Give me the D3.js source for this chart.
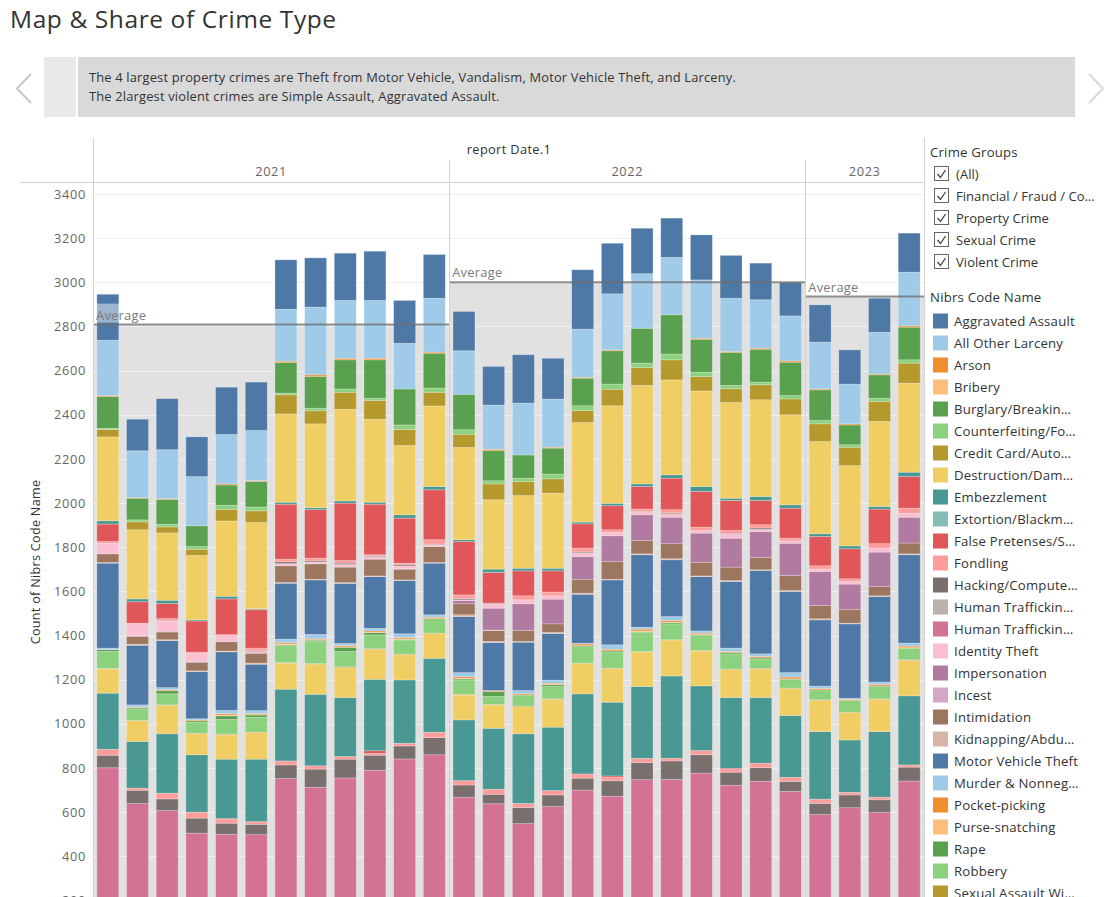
<!DOCTYPE html>
<html><head><meta charset="utf-8">
<script src="https://cdn.jsdelivr.net/npm/d3@7/dist/d3.min.js"></script>
<style>
html,body{margin:0;padding:0;overflow:hidden;background:#fff;width:1110px;height:897px}
svg{display:block;font-family:"Open Sans","Noto Sans",sans-serif}
</style></head><body>
<svg id="c" width="1110" height="960"></svg>
<script>
// ---------- DATA ----------
const years = ["2021","2022","2023"];
const months = ["2021-01","2021-02","2021-03","2021-04","2021-05","2021-06","2021-07","2021-08","2021-09","2021-10","2021-11","2021-12",
  "2022-01","2022-02","2022-03","2022-04","2022-05","2022-06","2022-07","2022-08","2022-09","2022-10","2022-11","2022-12",
  "2023-01","2023-02","2023-03","2023-04"];
const yTicks = [200,400,600,800,1000,1200,1400,1600,1800,2000,2200,2400,2600,2800,3000,3200,3400];
const crimeGroups = ["(All)","Financial / Fraud / Co…","Property Crime","Sexual Crime","Violent Crime"];

const aggravatedAssault = [208,143,231,180,214,219,224,223,214,223,194,198, 178,175,219,185,269,229,206,178,204,194,166,151, 169,155,154,177];
const allOtherLarceny   = [251,212,222,223,224,227,235,307,262,262,207,244, 197,200,235,218,218,254,247,260,264,241,219,204, 212,180,189,243];
const arson             = [5,3,3,0,5,4,6,8,7,7,0,5, 0,6,0,4,4,4,0,0,5,4,5,6, 4,5,4,6];
const bribery           = [0,0,0,0,0,0,0,0,0,0,0,0, 0,0,0,0,0,0,0,0,0,0,0,0, 0,0,0,0];
const burglary          = [143,98,113,94,92,116,139,143,132,174,163,158, 161,137,105,118,125,151,158,178,149,150,149,151, 139,90,106,148];
const counterfeiting    = [5,9,12,12,18,17,8,12,15,10,21,19, 20,14,15,21,22,23,20,26,20,15,12,15, 15,11,15,15];
const creditCard        = [34,36,27,28,53,53,86,59,77,85,72,62, 60,72,64,65,54,75,81,91,65,62,68,72, 80,83,90,91];
const destruction       = [380,313,305,292,341,391,400,380,415,376,314,365, 418,314,329,340,451,442,446,430,433,434,438,408, 418,364,385,403];
const embezzlement      = [15,13,15,5,12,4,9,9,10,9,15,15, 8,15,12,12,8,11,12,15,22,10,18,15, 12,13,12,20];
const extortion         = [0,0,0,0,0,0,0,0,0,0,0,0, 0,0,0,0,0,0,0,0,0,0,0,0, 0,0,0,0];
const falsePretenses    = [79,97,68,141,162,174,249,219,260,229,204,226, 242,139,113,96,110,109,102,143,162,136,110,136, 133,136,157,143];
const fondling          = [8,3,8,6,4,12,12,13,12,5,8,20, 17,0,18,17,17,12,11,14,15,13,15,12, 15,12,20,23];
const hacking           = [0,0,3,0,0,3,8,5,6,3,5,3, 5,3,0,0,4,0,3,4,0,4,6,0, 0,0,0,0];
const humanTraffCSA     = [0,0,0,0,0,0,0,0,0,0,0,0, 0,0,0,0,0,0,0,0,0,0,0,0, 0,0,0,0];
const humanTraffIS      = [0,0,0,0,0,0,0,0,0,0,0,0, 0,0,0,0,0,0,0,0,0,0,0,0, 0,0,0,0];
const identityTheft     = [48,54,47,38,26,8,10,8,12,12,12,8, 3,20,18,15,17,15,12,16,12,18,10,11, 11,12,18,18];
const impersonation     = [0,3,3,2,2,0,0,0,0,0,3,0, 15,99,121,112,103,117,116,120,132,131,117,146, 154,114,156,117];
const incest            = [0,0,0,0,0,0,0,0,0,0,0,0, 0,2,0,0,0,0,0,0,0,0,0,0, 0,0,0,0];
const intimidation      = [39,35,35,39,42,45,76,70,70,76,48,72, 50,50,50,39,63,80,61,68,62,61,56,68, 60,63,42,49];
const kidnapping        = [3,5,4,3,4,5,3,3,4,3,3,3, 8,5,3,5,5,3,4,5,3,4,3,4, 5,3,3,4];
const motorVehicleTheft = [385,270,213,214,265,210,253,247,272,234,241,234, 254,217,219,211,222,294,328,257,246,302,378,368, 300,337,388,400];
const murder            = [7,10,10,5,15,13,16,20,9,12,17,11, 19,2,15,14,3,20,9,18,10,15,12,20, 11,5,10,14];
const pocketPicking     = [0,3,4,4,6,5,6,4,6,6,6,6, 7,3,5,5,7,7,8,7,6,5,6,8, 6,5,7,7];
const purseSnatching    = [0,0,0,0,4,2,3,2,2,2,2,0, 2,0,0,2,0,0,3,2,2,0,0,0, 0,0,0,2];
const rape              = [8,5,14,6,16,10,4,6,19,10,3,0, 5,22,3,8,5,5,3,6,3,6,5,2, 0,0,3,0];
const robbery           = [77,53,50,50,67,67,77,100,70,63,64,66, 65,36,47,56,75,74,87,72,68,69,42,40, 45,53,56,53];
const sexualAssaultObj  = [2,0,2,3,3,3,3,3,3,2,3,2, 3,2,3,2,2,2,2,2,2,2,4,2, 2,2,2,2];
const shoplifting       = [110,95,129,95,110,120,118,136,136,136,114,112, 113,106,123,126,137,152,157,162,158,127,129,122, 142,124,146,161];
const simpleAssault     = [254,211,269,260,268,283,325,324,267,324,287,335, 275,276,315,287,363,334,325,373,293,320,297,280, 306,237,297,313];
const sodomy            = [0,0,0,0,0,0,0,0,0,0,0,0, 0,0,0,0,0,0,0,0,0,0,0,0, 0,0,0,0];
const statutoryRape     = [0,0,0,0,5,0,0,0,0,12,0,0, 0,0,0,0,0,7,0,0,0,6,0,0, 0,0,0,0];
const stolenProperty    = [27,10,26,27,17,12,18,15,12,8,12,24, 20,23,19,20,19,15,19,12,19,12,20,19, 19,12,12,10];
const theftFromBuilding = [57,60,53,68,50,47,62,82,85,68,59,78, 55,43,73,53,54,70,78,84,83,59,62,45, 51,58,58,63];
const theftFromCoinOp   = [0,0,0,0,0,0,0,0,0,0,0,0, 0,0,0,0,0,0,0,0,0,0,0,0, 0,0,0,0];
const theftFromMV       = [801,639,607,505,500,498,752,713,755,790,841,860, 668,638,548,625,700,672,747,748,777,722,740,694, 589,620,598,741];

// legend order (top of stack first); [full name, legend label, values]
const series = [
  ["Aggravated Assault","Aggravated Assault",aggravatedAssault],
  ["All Other Larceny","All Other Larceny",allOtherLarceny],
  ["Arson","Arson",arson],
  ["Bribery","Bribery",bribery],
  ["Burglary/Breaking & Entering","Burglary/Breakin…",burglary],
  ["Counterfeiting/Forgery","Counterfeiting/Fo…",counterfeiting],
  ["Credit Card/Automated Teller Machine Fraud","Credit Card/Auto…",creditCard],
  ["Destruction/Damage/Vandalism of Property","Destruction/Dam…",destruction],
  ["Embezzlement","Embezzlement",embezzlement],
  ["Extortion/Blackmail","Extortion/Blackm…",extortion],
  ["False Pretenses/Swindle/Confidence Game","False Pretenses/S…",falsePretenses],
  ["Fondling","Fondling",fondling],
  ["Hacking/Computer Invasion","Hacking/Compute…",hacking],
  ["Human Trafficking, Commercial Sex Acts","Human Traffickin…",humanTraffCSA],
  ["Human Trafficking, Involuntary Servitude","Human Traffickin…",humanTraffIS],
  ["Identity Theft","Identity Theft",identityTheft],
  ["Impersonation","Impersonation",impersonation],
  ["Incest","Incest",incest],
  ["Intimidation","Intimidation",intimidation],
  ["Kidnapping/Abduction","Kidnapping/Abdu…",kidnapping],
  ["Motor Vehicle Theft","Motor Vehicle Theft",motorVehicleTheft],
  ["Murder & Nonnegligent Manslaughter","Murder & Nonneg…",murder],
  ["Pocket-picking","Pocket-picking",pocketPicking],
  ["Purse-snatching","Purse-snatching",purseSnatching],
  ["Rape","Rape",rape],
  ["Robbery","Robbery",robbery],
  ["Sexual Assault With An Object","Sexual Assault Wi…",sexualAssaultObj],
  ["Shoplifting","Shoplifting",shoplifting],
  ["Simple Assault","Simple Assault",simpleAssault],
  ["Sodomy","Sodomy",sodomy],
  ["Statutory Rape","Statutory Rape",statutoryRape],
  ["Stolen Property Offenses","Stolen Property O…",stolenProperty],
  ["Theft From Building","Theft From Building",theftFromBuilding],
  ["Theft From Coin-Operated Machine or Device","Theft From Coin-…",theftFromCoinOp],
  ["Theft From Motor Vehicle","Theft From Motor …",theftFromMV]
];
const tableau20 = ["#4e79a7","#a0cbe8","#f28e2b","#ffbe7d","#59a14f","#8cd17d","#b6992d","#f1ce63","#499894","#86bcb6",
  "#e15759","#ff9d9a","#79706e","#bab0ac","#d37295","#fabfd2","#b07aa1","#d4a6c8","#9d7660","#d7b5a6"];

// ---------- DRAW ----------
const svg = d3.select("#c");
const keys = series.map(s => s[0]);
const color = d3.scaleOrdinal().domain(keys).range(keys.map((k,i)=>tableau20[i%20]));

const rows = months.map((m,i) => {
  const r = {month:m, year:m.slice(0,4)};
  series.forEach(s => r[s[0]] = s[2][i]);
  return r;
});
const stack = d3.stack().keys(keys.slice().reverse());
const stacked = stack(rows);

const x = d3.scaleBand().domain(months).range([93,924]).paddingInner(0.26).paddingOuter(0.13);
const y = d3.scaleLinear().domain([0,3450]).range([944.6,183]);
const step = x.step();

// header
svg.append("text").attr("x",10).attr("y",28).attr("font-size",24.5).attr("letter-spacing",0.6).attr("fill","#333").text("Map & Share of Crime Type");
svg.append("rect").attr("x",44).attr("y",57).attr("width",32).attr("height",60).attr("fill","#e9e9e9");
svg.append("rect").attr("x",78).attr("y",57).attr("width",997).attr("height",60).attr("fill","#d9d9d9");
const storyAttr = t => t.attr("x",89).attr("font-size",12.9).attr("letter-spacing",0.17).attr("fill","#333");
svg.append("text").call(storyAttr).attr("y",82)
  .text("The 4 largest property crimes are Theft from Motor Vehicle, Vandalism, Motor Vehicle Theft, and Larceny.");
svg.append("text").call(storyAttr).attr("y",101)
  .text("The 2largest violent crimes are Simple Assault, Aggravated Assault.");
svg.append("path").attr("d","M31,74 L17,88.5 L31,103").attr("fill","none").attr("stroke","#c8c8c8").attr("stroke-width",2);
svg.append("path").attr("d","M1089,74 L1103,88.5 L1089,103").attr("fill","none").attr("stroke","#d8d8d8").attr("stroke-width",2);

// panels per year
const panels = years.map(yr => {
  const idx = months.map((m,i)=>m.startsWith(yr)?i:-1).filter(i=>i>=0);
  const x0 = x(months[idx[0]]) - step*0.13;
  const x1 = x(months[idx[idx.length-1]]) + x.bandwidth() + step*0.13;
  const totals = idx.map(i => series.reduce((a,s)=>a+s[2][i],0));
  return {yr, x0, x1, avg: d3.mean(totals)};
});

// reference bands
panels.forEach(p => {
  svg.append("rect").attr("x",p.x0).attr("y",y(p.avg)).attr("width",p.x1-p.x0).attr("height",y(0)-y(p.avg)).attr("fill","#e1e1e1");
});
// gridlines
svg.append("g").selectAll("line").data(yTicks).join("line")
  .attr("x1",93).attr("x2",924).attr("y1",d=>Math.round(y(d))+0.5).attr("y2",d=>Math.round(y(d))+0.5)
  .attr("stroke","#f0f0f0").attr("stroke-width",1);

// bars
svg.append("g").selectAll("g").data(stacked).join("g")
  .attr("fill", d => color(d.key))
  .selectAll("rect").data(d=>d).join("rect")
  .attr("x", d => x(d.data.month))
  .attr("width", x.bandwidth())
  .attr("y", d => y(d[1]))
  .attr("height", d => Math.max(0, y(d[0]) - y(d[1])))
  .attr("stroke","rgba(255,255,255,0.35)").attr("stroke-width",0.7);

// average lines + labels
panels.forEach(p => {
  svg.append("rect").attr("x",p.x0+2).attr("y",y(p.avg)-21).attr("width",53).attr("height",19).attr("fill","#fff").attr("opacity",0.45);
  svg.append("line").attr("x1",p.x0).attr("x2",p.x1).attr("y1",y(p.avg)).attr("y2",y(p.avg))
    .attr("stroke","#6e6e6e").attr("stroke-width",2).attr("opacity",0.75);
  svg.append("text").attr("x",p.x0+3).attr("y",y(p.avg)-5).attr("font-size",12.8).attr("letter-spacing",0.3).attr("fill","#7a7a7a").text("Average");
});

// frame lines
const lc = "#d3d3d3";
svg.append("line").attr("x1",20).attr("x2",924).attr("y1",182.5).attr("y2",182.5).attr("stroke",lc);
svg.append("line").attr("x1",93.5).attr("x2",93.5).attr("y1",138).attr("y2",960).attr("stroke",lc);
panels.forEach((p,i) => {
  if (i>0) svg.append("line").attr("x1",Math.round(p.x0)+0.5).attr("x2",Math.round(p.x0)+0.5).attr("y1",160).attr("y2",960).attr("stroke",lc);
  svg.append("text").attr("x",(p.x0+p.x1)/2).attr("y",175.5).attr("text-anchor","middle").attr("font-size",12.8).attr("letter-spacing",0.6).attr("fill","#666").text(p.yr);
});
svg.append("line").attr("x1",924.5).attr("x2",924.5).attr("y1",138).attr("y2",960).attr("stroke",lc);
svg.append("text").attr("x",509).attr("y",154).attr("text-anchor","middle").attr("font-size",12.8).attr("letter-spacing",0.35).attr("fill","#333").text("report Date.1");

// y axis
const yAxis = d3.axisLeft(y).tickValues(yTicks).tickSize(0).tickPadding(7).tickFormat(d3.format("d"));
const ga = svg.append("g").attr("transform","translate(93,0)").call(yAxis);
ga.select(".domain").remove();
ga.selectAll("text").attr("font-size",12.8).attr("letter-spacing",0.7).attr("fill","#666").attr("font-family","'Open Sans', 'Noto Sans', sans-serif");
svg.append("text").attr("transform","translate(40,562) rotate(-90)").attr("text-anchor","middle")
  .attr("font-size",12.6).attr("letter-spacing",0.3).attr("fill","#333").text("Count of Nibrs Code Name");

// filter: crime groups
svg.append("text").attr("x",930).attr("y",156.5).attr("font-size",13.2).attr("letter-spacing",0.2).attr("fill","#333").text("Crime Groups");
crimeGroups.forEach((g,i) => {
  const cy = 174 + i*22;
  svg.append("rect").attr("x",934.5).attr("y",cy-7.5).attr("width",14).attr("height",14).attr("fill","#fff").attr("stroke","#666");
  svg.append("path").attr("d",`M937.5,${cy} L940.5,${cy+3.5} L945.5,${cy-4}`).attr("fill","none").attr("stroke","#444").attr("stroke-width",1.3);
  svg.append("text").attr("x",956).attr("y",cy+4.5).attr("font-size",13).attr("letter-spacing",0.05).attr("fill","#333").text(g);
});

// legend
svg.append("text").attr("x",930).attr("y",301.5).attr("font-size",13.2).attr("letter-spacing",0.2).attr("fill","#333").text("Nibrs Code Name");
const lg = svg.append("g").selectAll("g").data(series).join("g")
  .attr("transform",(d,i)=>`translate(0,${321 + i*22})`);
lg.append("rect").attr("x",933).attr("y",-7.5).attr("width",15).attr("height",15).attr("fill",d=>color(d[0]));
lg.append("text").attr("x",954).attr("y",4.5).attr("font-size",13.2).attr("letter-spacing",0.2).attr("fill","#333").text(d=>d[1]);
</script>
</body></html>
